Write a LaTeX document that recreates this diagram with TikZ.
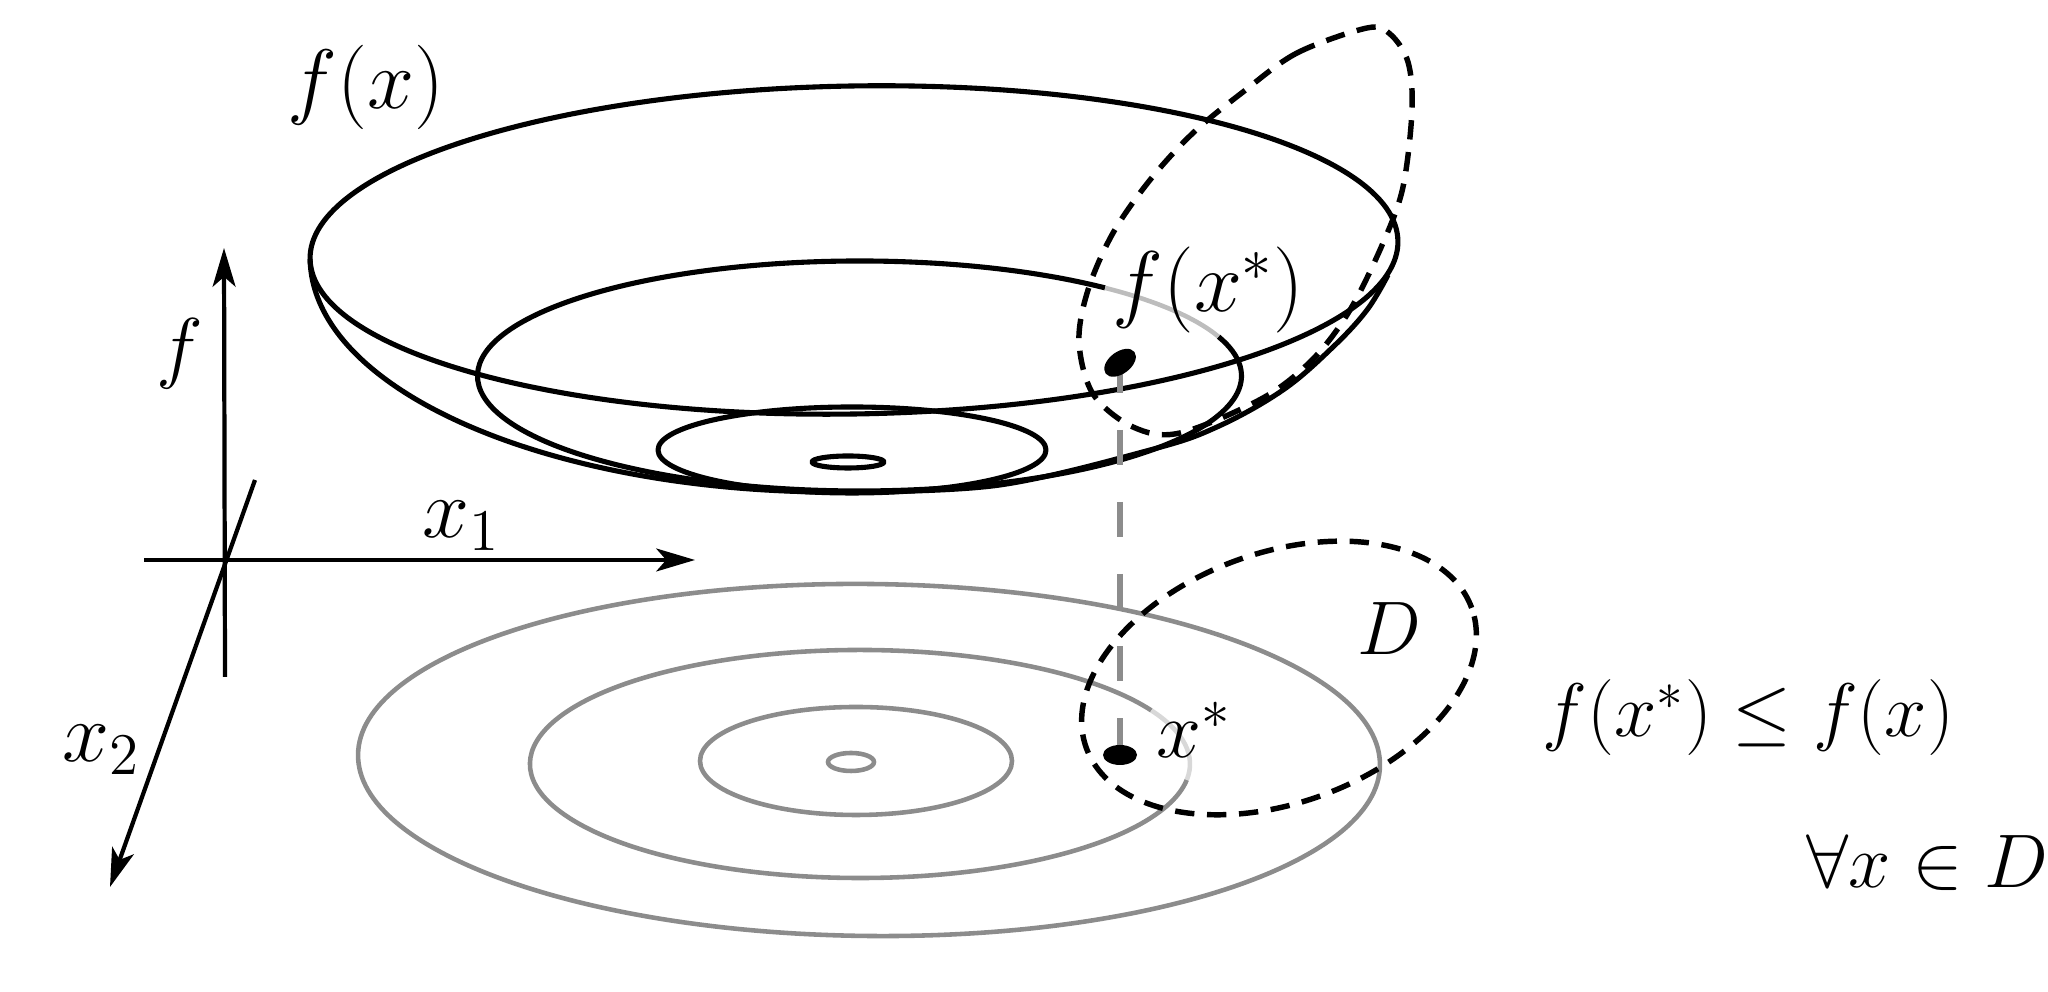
\RequirePackage{fix-cm}
\documentclass[tikz,border=0pt]{standalone}
\usetikzlibrary{arrows.meta}
\definecolor{cgray}{HTML}{8C8C8C}
\definecolor{clight}{HTML}{BDBDBD}
\definecolor{clighter}{HTML}{D8D8D8}
\begin{document}
\begin{tikzpicture}[x=0.01cm,y=0.01cm,
  blk/.style={line width=1.45pt,line join=round},
  axisline/.style={line width=1.2pt},
  gry/.style={line width=1.3pt,draw=cgray},
  lgt/.style={line width=1.3pt,draw=clight},
  lgtb/.style={line width=1.3pt,draw=clighter},
  dsh/.style={line width=1.55pt,dash pattern=on 5.5pt off 3.6pt},
  vdsh/.style={line width=1.7pt,draw=cgray,dash pattern=on 10pt off 10.5pt,dash phase=1.5pt},
  lbl/.style={inner sep=0pt,anchor=base west,font=\fontsize{21.6}{26}\selectfont},
  big/.style={font=\fontsize{24}{29}\selectfont},
  arr/.style={-{Stealth[length=11pt,width=6.5pt,inset=2.8pt]}}
]
\useasboundingbox (0,0) rectangle (2048,992);

% ---- axes ----
\coordinate (o) at (224,432);
\coordinate (fbot) at (225,315);
\coordinate (ftop) at (224,744);
\coordinate (x1a) at (144,432);
\coordinate (x1b) at (695,432);
\coordinate (x2a) at (255,512);
\coordinate (x2b) at (110,105);
\draw[axisline,arr] (fbot) -- (ftop);
\draw[axisline,arr] (x1a) -- (x1b);
\draw[axisline,arr] (x2a) -- (x2b);
\node[lbl,font=\fontsize{22.5}{27}\selectfont] (lf) at (156,618) {$f$};
\node[lbl,big] (lx1) at (422,454) {$x_1$};
\node[lbl,big] (lx2) at (62,230) {$x_2$};

% ---- bowl ----
\begin{scope}[shift={(854,742)},rotate=0.95]
  \draw[blk] (0,0) ellipse [x radius=544, y radius=164];
  \draw[blk] (-544,0) arc[start angle=180,end angle=270,x radius=544,y radius=242] coordinate (bb);
\end{scope}
\draw[blk] plot[smooth,tension=0.6] coordinates {(bb) (1000,507) (1150,542) (1217,565) (1283,602) (1333,645) (1367,682) (1388,717)};
\draw[blk] ([shift={(859.5,616)}]50:382 and 115) arc[start angle=50,end angle=380,x radius=382,y radius=115];
\draw[lgt] ([shift={(859.5,616)}]20:382 and 115) arc[start angle=20,end angle=50,x radius=382,y radius=115];
\draw[blk] (852,542) ellipse [x radius=194, y radius=43];
\draw[blk] (848,530) ellipse [x radius=36, y radius=6];
\node[lbl,big] (lfx) at (287,883) {$f(x)$};

% ---- top dashed region ----
\draw[dsh] plot[smooth cycle,tension=0.55] coordinates {
  (1367,964) (1297,939) (1243,900) (1193,859) (1150,812) (1113,759)
  (1088,702) (1079,650) (1093,598) (1133,565) (1180,559) (1263,594)
  (1313,633) (1350,682) (1383,749) (1403,805) (1412,882) (1408,930) (1390,958)};

% ---- bottom plane ----
\begin{scope}[shift={(869,232)},rotate=-0.6]
  \draw[gry] (0,0) ellipse [x radius=511, y radius=176];
\end{scope}
\draw[gry] ([shift={(860,228)}]28:330 and 114) arc[start angle=28,end angle=352,x radius=330,y radius=114];
\draw[lgtb] ([shift={(860,228)}]-8:330 and 114) arc[start angle=-8,end angle=28,x radius=330,y radius=114];
\draw[gry] (856,231) ellipse [x radius=156, y radius=54];
\draw[gry] (851,230) ellipse [x radius=23, y radius=9];
\begin{scope}[shift={(1279,314)},rotate=20]
  \draw[dsh] (0,0) ellipse [x radius=205, y radius=125];
\end{scope}

% ---- optimum ----
\coordinate (ptop) at (1120,629);
\coordinate (pbot) at (1120,237);
\draw[vdsh] (ptop) -- (pbot);
\fill[rotate around={37:(ptop)}] (ptop) ellipse [x radius=18, y radius=11];
\fill (pbot) ellipse [x radius=17, y radius=10];
\node[lbl,font=\fontsize{24.5}{29}\selectfont] (lfxs) at (1112,680) {$f(x^*)$};
\node[lbl,font=\fontsize{23}{28}\selectfont] (lxs) at (1156,234) {$x^*$};
\node[lbl] (lD) at (1357,337) {$D$};
\node[lbl] (lineq) at (1542,255) {$f(x^*)\leq f(x)$};
\node[lbl] (lall) at (1806,104) {$\forall x\in D$};
\end{tikzpicture}
\end{document}
